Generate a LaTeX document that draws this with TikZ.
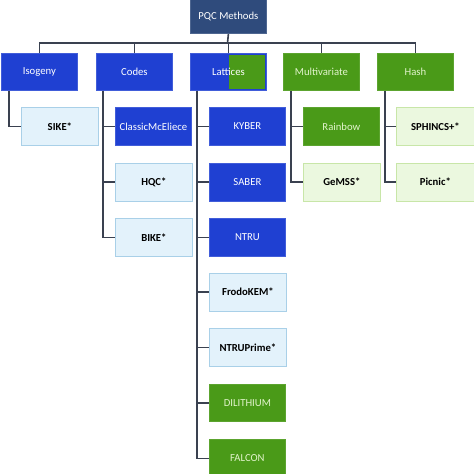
\documentclass[tikz,border=0pt]{standalone}
\usepackage{fontspec}
\setmainfont{Carlito}
\definecolor{navy}{HTML}{2F4B7C}
\definecolor{blu}{HTML}{1F40D2}
\definecolor{grn}{HTML}{4A9A18}
\definecolor{lblue}{HTML}{E3F2FB}
\definecolor{lblueb}{HTML}{A9D0E8}
\definecolor{lgrn}{HTML}{EBF8DF}
\definecolor{lgrnb}{HTML}{C8E6A8}
\definecolor{wire}{HTML}{3A4150}
\definecolor{gtext}{HTML}{E2F4CC}
\begin{document}
\begin{tikzpicture}[x=1pt,y=-1pt,
  box/.style={rectangle, minimum width=76pt, minimum height=37pt, inner sep=0pt, font=\fontsize{10.7}{12}\selectfont, anchor=north west, line width=0.8pt},
  rootbox/.style={box, fill=navy, draw=navy!85!white, text=white},
  bluebox/.style={box, fill=blu, draw=blu!85!white, text=white},
  grnbox/.style={box, fill=grn, draw=grn!90!white, text=gtext},
  lbbox/.style={box, fill=lblue, draw=lblueb, text=black, font=\fontsize{10.7}{12}\selectfont\bfseries},
  lgbox/.style={box, fill=lgrn, draw=lgrnb, text=black, font=\fontsize{10.7}{12}\selectfont\bfseries},
  wirestyle/.style={draw=wire, line width=1.6pt}
]
\useasboundingbox (0,0) rectangle (474,474);
% root
\node[rootbox, minimum height=34pt, anchor=south west] (root) at (190,34) {PQC Methods};
% level 1
\node[bluebox] (iso) at (1,53) {Isogeny};
\node[bluebox] (codes) at (96,53) {Codes};
\node[bluebox, path picture={\fill[grn] ([xshift=1pt,yshift=-1.5pt]path picture bounding box.north) rectangle ([xshift=-1.8pt,yshift=1.8pt]path picture bounding box.south east);}] (lat) at (190,53) {Lattices};
\node[grnbox] (multi) at (283,53) {Multivariate};
\node[grnbox] (hash) at (377,53) {Hash};
% bus
\coordinate (bus) at (227.5,43);
\draw[wirestyle] (root.south) -- (bus);
\draw[wirestyle] (iso.north) -- ++(0,-10) -| (hash.north);
\draw[wirestyle] (codes.north) -- ++(0,-10);
\draw[wirestyle] (lat.north) -- ++(0,-10);
\draw[wirestyle] (multi.north) -- ++(0,-10);
% children
\node[lbbox, minimum width=77pt, minimum height=38pt] (sike) at (21,107) {SIKE*};
\node[bluebox, minimum width=76pt, minimum height=38pt] (mce) at (115,107) {ClassicMcEliece};
\node[lbbox, minimum width=77pt, minimum height=38pt] (hqc) at (115,162.5) {HQC*};
\node[lbbox, minimum width=77pt, minimum height=38pt] (bike) at (115,218) {BIKE*};
\node[bluebox, minimum width=76pt, minimum height=38pt] (kyber) at (209,107) {KYBER};
\node[bluebox, minimum width=76pt, minimum height=38pt] (saber) at (209,162.5) {SABER};
\node[bluebox, minimum width=76pt, minimum height=38pt] (ntru) at (209,218) {NTRU};
\node[lbbox, minimum width=77pt, minimum height=38pt] (frodo) at (209,272.5) {FrodoKEM*};
\node[lbbox, minimum width=77pt, minimum height=38pt] (ntrup) at (209,328) {NTRUPrime*};
\node[grnbox, minimum width=76pt, minimum height=37pt] (dil) at (209,384) {DILITHIUM};
\node[grnbox, minimum width=76pt, minimum height=38pt] (falcon) at (209,439) {FALCON};
\node[grnbox, minimum width=76pt, minimum height=38pt] (rainbow) at (303,107) {Rainbow};
\node[lgbox, minimum width=77pt, minimum height=38pt] (gemss) at (303,162.5) {GeMSS*};
\node[lgbox, minimum width=78pt, minimum height=38pt] (sphincs) at (396,107) {SPHINCS+*};
\node[lgbox, minimum width=78pt, minimum height=38pt] (picnic) at (396,162.5) {Picnic*};
% connectors
\draw[wirestyle] ([xshift=8pt]iso.south west) |- (sike.west);
\draw[wirestyle] ([xshift=7pt]codes.south west) |- (mce.west);
\draw[wirestyle] ([xshift=7pt]codes.south west) |- (hqc.west);
\draw[wirestyle] ([xshift=7pt]codes.south west) |- (bike.west);
\draw[wirestyle] ([xshift=7pt]lat.south west) |- (kyber.west);
\draw[wirestyle] ([xshift=7pt]lat.south west) |- (saber.west);
\draw[wirestyle] ([xshift=7pt]lat.south west) |- (ntru.west);
\draw[wirestyle] ([xshift=7pt]lat.south west) |- (frodo.west);
\draw[wirestyle] ([xshift=7pt]lat.south west) |- (ntrup.west);
\draw[wirestyle] ([xshift=7pt]lat.south west) |- (dil.west);
\draw[wirestyle] ([xshift=7pt]lat.south west) |- (falcon.west);
\draw[wirestyle] ([xshift=8pt]multi.south west) |- (rainbow.west);
\draw[wirestyle] ([xshift=8pt]multi.south west) |- (gemss.west);
\draw[wirestyle] ([xshift=8pt]hash.south west) |- (sphincs.west);
\draw[wirestyle] ([xshift=8pt]hash.south west) |- (picnic.west);
\end{tikzpicture}
\end{document}
